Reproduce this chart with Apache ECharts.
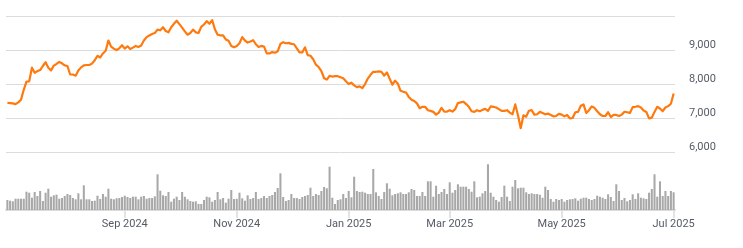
<!DOCTYPE html>
<html><head><meta charset="utf-8">
<script src="https://cdn.jsdelivr.net/npm/echarts@6/dist/echarts.min.js"></script>
<style>html,body{margin:0;padding:0;background:#fff}#c{width:743px;height:248px}</style>
</head><body><div id="c"></div>
<script>
// Trading calendar (weekdays minus exchange holidays)
const startDate = '2024-07-01';
const endDate = '2025-07-01';
const holidays = ['2024-07-15','2024-08-12','2024-09-16','2024-09-23','2024-10-14','2024-11-04','2024-12-31','2025-01-01','2025-01-02','2025-01-03','2025-01-13','2025-02-11','2025-02-24','2025-03-20','2025-04-29','2025-05-05','2025-05-06'];
const monthNames = ['Jan','Feb','Mar','Apr','May','Jun','Jul','Aug','Sep','Oct','Nov','Dec'];
const labelMonths = [0,2,4,6,8,10];
const priceTicks = [6000,7000,8000,9000,10000];

const closePrices = [
7470,7460,7450,7430,7480,7560,7850,8090,8100,8500,
8350,8400,8430,8550,8660,8500,8420,8560,8610,8670,
8630,8570,8550,8300,8300,8265,8420,8510,8570,8580,
8580,8620,8720,8850,8800,8920,9000,9300,9120,9060,
9020,9070,9160,9060,9130,9050,9090,9140,9110,9150,
9300,9400,9450,9490,9520,9620,9600,9690,9580,9540,
9690,9790,9880,9780,9680,9570,9470,9520,9620,9540,
9520,9700,9770,9870,9790,9900,9630,9470,9450,9450,
9330,9290,9140,9100,9140,9220,9400,9300,9240,9270,
9310,9190,9110,9140,9120,8920,8920,8960,8940,8980,
9200,9250,9220,9230,9200,9190,9070,8950,8950,9100,
8870,8850,8750,8590,8520,8400,8190,8150,8260,8240,
8250,8250,8220,8190,8100,8020,8060,7980,7930,7950,
7900,8020,8180,8290,8380,8380,8390,8380,8270,8360,
8180,8000,8120,8030,7820,7790,7770,7640,7560,7520,
7450,7310,7350,7350,7250,7230,7200,7120,7180,7320,
7205,7210,7250,7210,7280,7460,7480,7500,7430,7350,
7220,7200,7250,7220,7260,7290,7230,7360,7350,7330,
7280,7230,7230,7250,7180,7130,7420,7100,6720,7100,
7060,7235,7250,7120,7130,7200,7170,7130,7150,7110,
7070,7080,7140,7120,7070,7110,7010,7020,7190,7200,
7380,7420,7170,7250,7360,7320,7220,7130,7080,7080,
7190,7050,7110,7110,7080,7120,7205,7190,7170,7340,
7350,7370,7330,7240,7200,7010,7030,7200,7350,7300,
7220,7330,7370,7440,7740];

const volumes = [
100,93,87,113,113,113,113,183,173,123,
180,140,190,90,173,213,133,147,153,113,
120,140,160,150,120,107,167,107,247,107,
107,90,93,143,110,160,133,213,113,107,
117,120,130,143,130,120,133,133,107,133,
140,113,120,120,137,357,193,147,140,180,
83,113,133,100,180,133,107,90,83,87,
60,60,100,133,127,83,100,180,107,120,
73,113,200,110,113,173,117,93,147,110,
120,180,110,120,140,120,140,150,180,220,
367,130,90,100,160,120,120,110,130,140,
150,223,140,160,150,190,230,217,433,123,
60,100,107,160,120,190,127,333,190,180,
183,173,160,160,410,177,140,110,180,267,
213,147,160,167,177,160,160,177,210,200,
140,140,180,140,287,287,133,243,160,180,
210,160,277,173,200,257,233,233,233,210,
183,287,127,133,167,190,457,173,133,100,
83,130,243,133,90,233,300,217,223,223,
177,160,167,160,160,153,123,233,200,110,
83,110,100,110,83,100,107,110,117,93,
113,123,123,110,100,110,143,133,123,110,
157,130,90,257,190,100,120,87,100,157,
110,167,123,117,110,173,210,357,133,287,
140,190,140,190,177];

// build category list of trading days
const dates = [];
(function(){
  const hs = new Set(holidays);
  let d = new Date(startDate + 'T00:00:00Z');
  const e = new Date(endDate + 'T00:00:00Z');
  while (d <= e) {
    const wd = d.getUTCDay();
    const s = d.toISOString().slice(0,10);
    if (wd !== 0 && wd !== 6 && !hs.has(s)) dates.push(s);
    d = new Date(d.getTime() + 86400000);
  }
})();

// indices of first trading day of labelled months
const labelIdx = new Set();
for (let i = 0; i < dates.length; i++) {
  const m = +dates[i].slice(5,7) - 1;
  const prevM = i > 0 ? +dates[i-1].slice(5,7) - 1 : -1;
  if (i > 0 && m !== prevM && labelMonths.indexOf(m) >= 0) labelIdx.add(i);
}

const FONT = 'Roboto';
const TXT = '#555b66';
const chart = echarts.init(document.getElementById('c'), null, {renderer:'canvas'});
chart.setOption({
  animation: false,
  grid: [
    {left: 6, right: 68, top: 16.7, height: 136, containLabel: false},
    {left: 6, right: 68, top: 150, bottom: 38, containLabel: false}
  ],
  xAxis: [
    {type: 'category', gridIndex: 0, data: dates, show: false, boundaryGap: true},
    {type: 'category', gridIndex: 1, data: dates, boundaryGap: true,
      axisLine: {show: true, lineStyle: {color: '#dcdcdc', width: 2}},
      axisTick: {show: true, alignWithLabel: true, length: 8, lineStyle: {color: '#dcdcdc', width: 1.5},
        interval: function(i){ return labelIdx.has(i); }},
      axisLabel: {show: true, margin: 9, fontFamily: FONT, fontSize: 11, color: TXT,
        interval: function(i){ return labelIdx.has(i); },
        formatter: function(v){ return monthNames[+v.slice(5,7)-1] + ' ' + v.slice(0,4); }},
      splitLine: {show: false}
    }
  ],
  yAxis: [
    {type: 'value', gridIndex: 0, position: 'right', min: priceTicks[0], max: priceTicks[priceTicks.length-1], interval: 1000,
      axisLine: {show: false}, axisTick: {show: false},
      splitLine: {show: true, lineStyle: {color: '#dcdcdc', width: 1}},
      axisLabel: {show: true, margin: 14, fontFamily: FONT, fontSize: 11, color: TXT, verticalAlign: 'bottom',
        formatter: function(v){ return v === priceTicks[priceTicks.length-1] ? '' : v.toLocaleString('en-US'); }}
    },
    {type: 'value', gridIndex: 1, min: 0, max: 600, show: false, splitLine: {show: false}}
  ],
  series: [
    {type: 'line', xAxisIndex: 0, yAxisIndex: 0, data: closePrices, symbol: 'none', smooth: false,
      lineStyle: {color: '#ff7a0e', width: 2.2, join: 'round'}},
    {type: 'bar', xAxisIndex: 1, yAxisIndex: 1, data: volumes, barCategoryGap: '25%',
      itemStyle: {color: '#a8a8a8'}}
  ]
});
</script></body></html>
